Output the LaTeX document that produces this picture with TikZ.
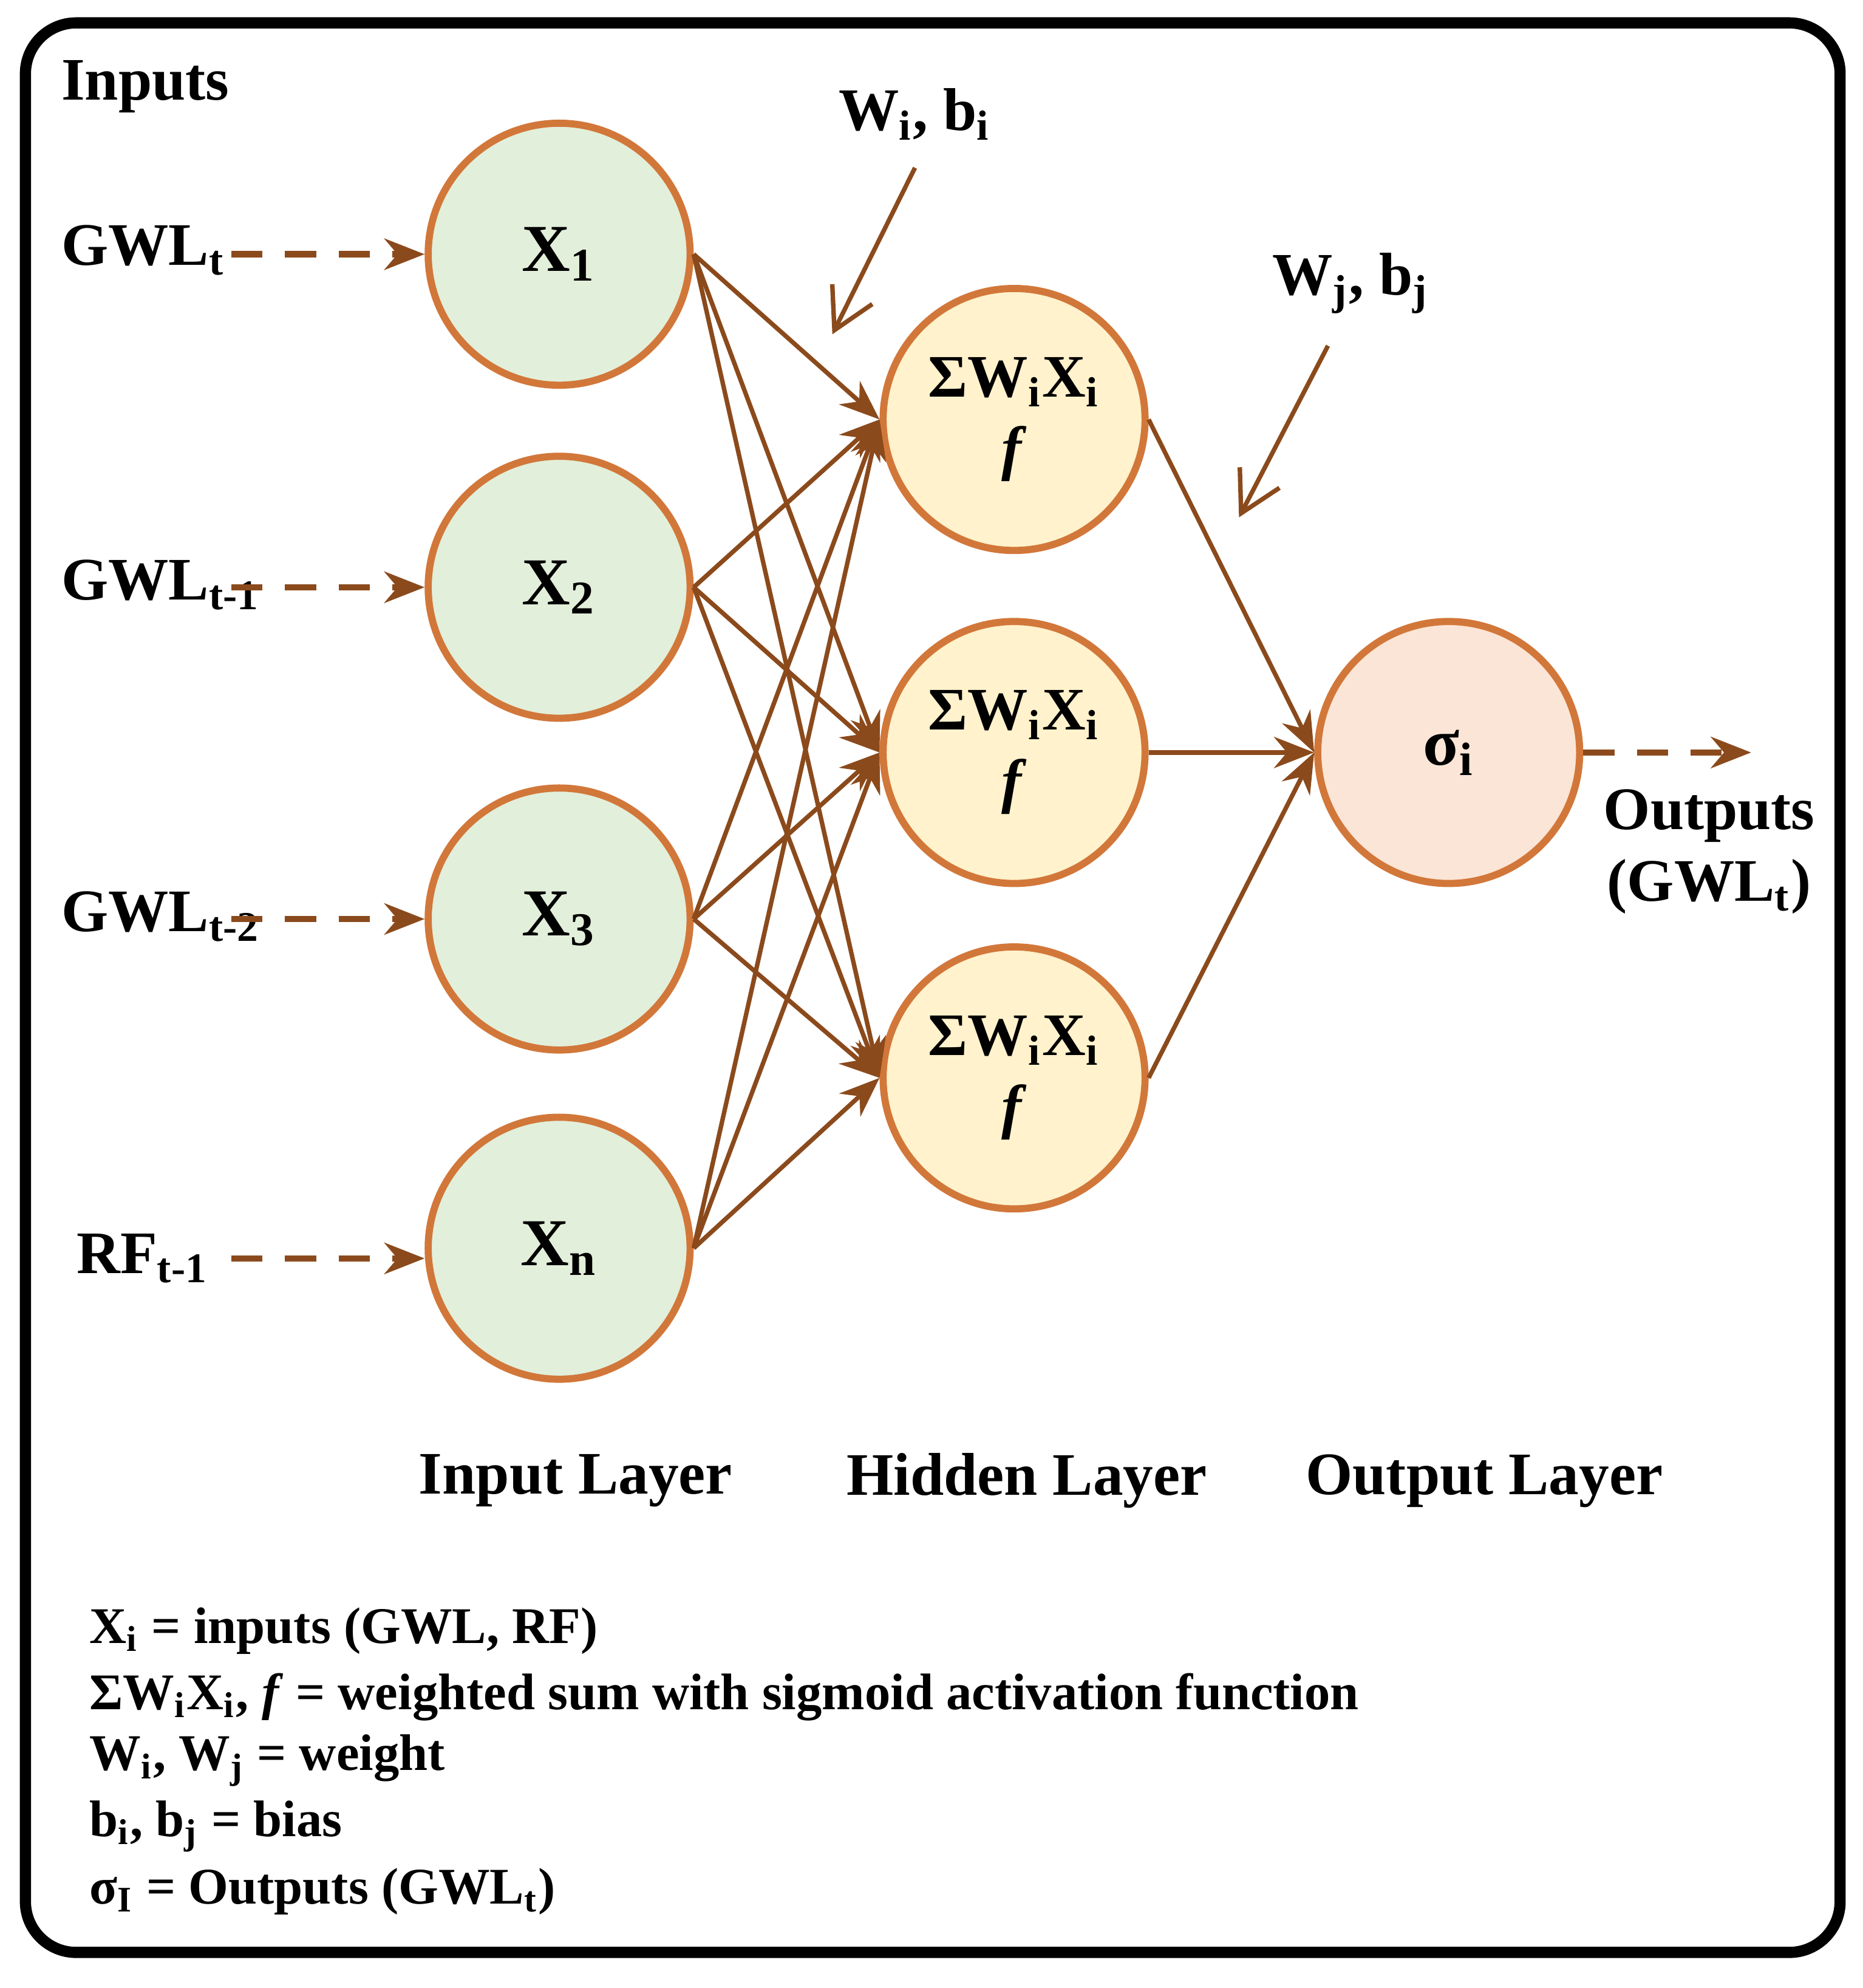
\documentclass[tikz,border=0pt]{standalone}
\usepackage{fontspec}
\setmainfont{Liberation Serif}
\usetikzlibrary{arrows.meta}
\newcommand{\sbs}[1]{\textsubscript{#1}}
\definecolor{brn}{HTML}{8B4A1C}
\definecolor{orng}{HTML}{D2773A}
\definecolor{gfill}{HTML}{E2EFDA}
\definecolor{yfill}{HTML}{FFF2CC}
\definecolor{pfill}{HTML}{FBE5D6}
\begin{document}
\begin{tikzpicture}[x=0.01cm,y=-0.01cm,
  neuron/.style={circle,draw=orng,line width=1.6pt,minimum size=2.06cm,inner sep=0pt,font=\fontsize{15}{17}\selectfont\bfseries},
  conn/.style={brn,line width=1pt,-{Stealth[length=9pt,width=7pt]}},
  dsh/.style={brn,line width=1.4pt,dashed,dash pattern=on 7pt off 5pt,-{Stealth[length=9pt,width=7pt]}},
  barb/.style={brn,line width=1pt,-{Straight Barb[length=9pt,width=10pt]}},
  lbl/.style={font=\fontsize{13.5}{16}\selectfont\bfseries},
  leg/.style={font=\fontsize{11.5}{13}\selectfont\bfseries,anchor=west}]
\useasboundingbox (0,0) rectangle (1466,1564);
\draw[line width=2.5pt,rounded corners=0.4cm] (20,18) rectangle (1448,1536);
\node[lbl,anchor=west] (inl) at (36,68) {Inputs};
\foreach \n/\y/\t in {1/200/{X\sbs{1}},2/462/{X\sbs{2}},3/723/{X\sbs{3}},4/982/{X\sbs{n}}}
  \node[neuron,fill=gfill] (x\n) at (440,\y) {\t};
\foreach \n/\y in {1/330,2/592,3/848}
  \node[neuron,fill=yfill,align=center,font=\fontsize{13.5}{16}\selectfont\bfseries] (h\n) at (798,\y) {ΣW\sbs{i}X\sbs{i}\\\textit{f}};
\node[neuron,fill=pfill] (o) at (1140,592) {σ\sbs{i}};
\node[lbl,anchor=west] (g1) at (36,197) {GWL\sbs{t}};
\node[lbl,anchor=west] (g2) at (36,460) {GWL\sbs{t-1}};
\node[lbl,anchor=west] (g3) at (36,721) {GWL\sbs{t-2}};
\node[lbl,anchor=west] (g4) at (48,990) {RF\sbs{t-1}};
\foreach \n/\y in {1/200,2/462,3/723,4/990}{
  \coordinate (s\n) at (182,\y);
  \draw[dsh] (s\n) -- (x\n.west|-s\n);}
\foreach \i in {1,...,4}\foreach \j in {1,2,3}
  \draw[conn] (x\i.east) -- (h\j.west);
\foreach \j in {1,2,3} \draw[conn] (h\j.east) -- (o.west);
\coordinate (oe) at (1378,592);
\draw[dsh] (o.east) -- (oe);
\node[lbl] (wi) at (720,90) {W\sbs{i}, b\sbs{i}};
\coordinate (wa) at (720,132); \coordinate (wb) at (655,263);
\draw[barb] (wa) -- (wb);
\node[lbl] (wj) at (1063,223) {W\sbs{j}, b\sbs{j}};
\coordinate (ja) at (1045,272); \coordinate (jb) at (975,407);
\draw[barb] (ja) -- (jb);
\node[lbl,align=center] (out) at (1345,670) {Outputs\\(GWL\sbs{t})};
\node[lbl] (l1) at (453,1165) {Input Layer};
\node[lbl] (l2) at (808,1165) {Hidden Layer};
\node[lbl] (l3) at (1168,1165) {Output Layer};
\node[leg] (e1) at (58,1283) {X\sbs{i} = inputs (GWL, RF)};
\node[leg] (e2) at (58,1335) {ΣW\sbs{i}X\sbs{i}, \textit{f} = weighted sum with sigmoid activation function};
\node[leg] (e3) at (58,1385) {W\sbs{i}, W\sbs{j} = weight};
\node[leg] (e4) at (58,1437) {b\sbs{i}, b\sbs{j} = bias};
\node[leg] (e5) at (58,1488) {σ\sbs{I} = Outputs (GWL\sbs{t})};
\end{tikzpicture}
\end{document}
